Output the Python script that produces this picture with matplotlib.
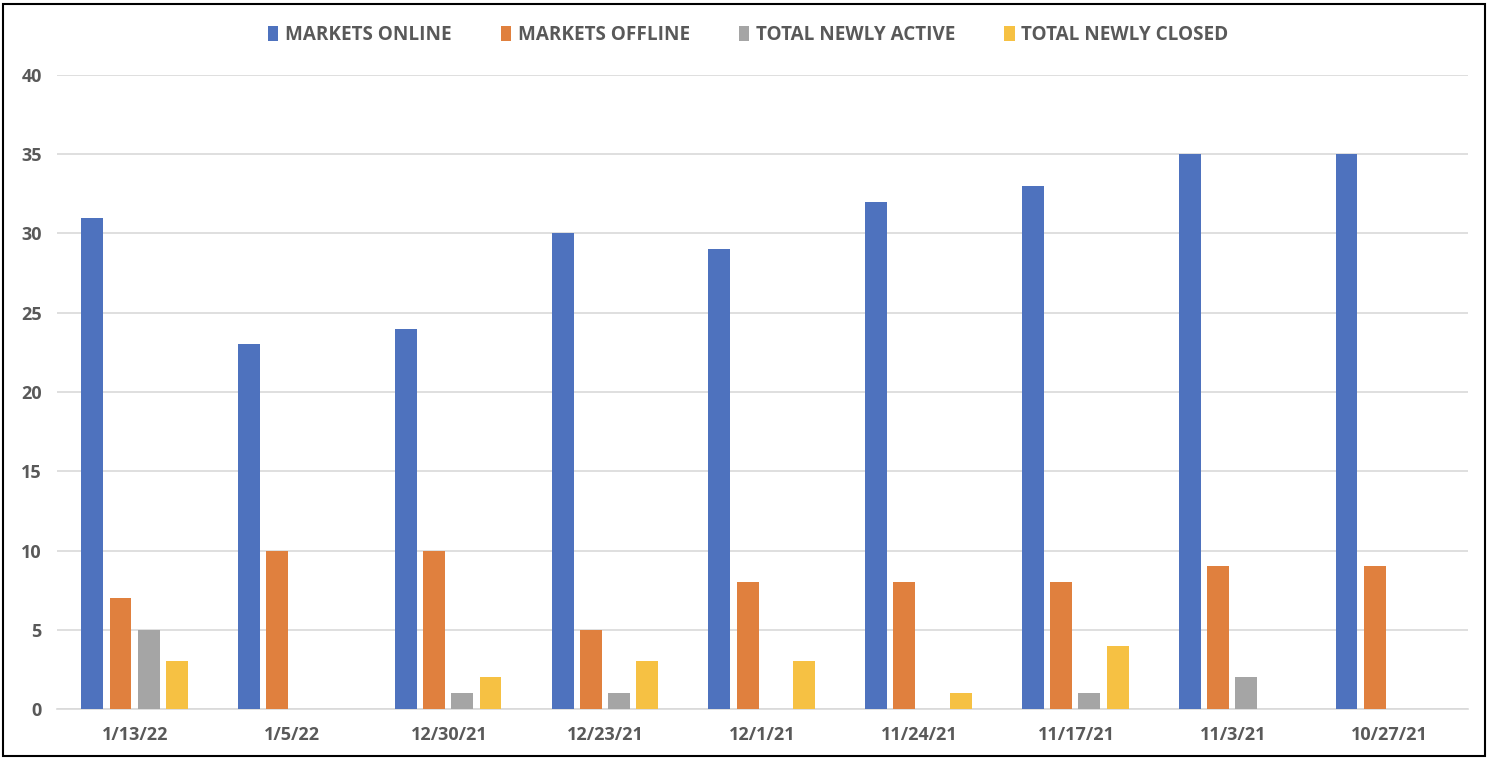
import matplotlib.pyplot as plt
import numpy as np
from matplotlib.patches import Rectangle

dates = ["1/13/22", "1/5/22", "12/30/21", "12/23/21", "12/1/21",
         "11/24/21", "11/17/21", "11/3/21", "10/27/21"]
markets_online = [31, 23, 24, 30, 29, 32, 33, 35, 35]
markets_offline = [7, 10, 10, 5, 8, 8, 8, 9, 9]
newly_active = [5, 0, 1, 1, 0, 0, 1, 2, 0]
newly_closed = [3, 0, 2, 3, 3, 1, 4, 0, 0]

series = [("MARKETS ONLINE", markets_online, "#4E72BE"),
          ("MARKETS OFFLINE", markets_offline, "#E0803E"),
          ("TOTAL NEWLY ACTIVE", newly_active, "#A5A5A5"),
          ("TOTAL NEWLY CLOSED", newly_closed, "#F6C143")]

plt.rcParams['font.family'] = ['Open Sans', 'DejaVu Sans']
txt = "#595959"

fig = plt.figure(figsize=(14.92, 7.64), dpi=100)
ax = fig.add_axes([57/1492, 1-709/764, (1468-57)/1492, (709-75)/764])

x = np.arange(len(dates))
offsets = [-0.275, -0.095, 0.085, 0.265]
for (name, vals, col), off in zip(series, offsets):
    ax.bar(x + off, vals, width=0.14, color=col, label=name, zorder=3)

ax.set_xlim(-0.5, len(dates) - 0.5)
ax.set_ylim(0, 40)
ax.set_yticks(range(0, 41, 5))
ax.set_xticks(x)
ax.set_xticklabels(dates)
ax.tick_params(length=0, labelsize=13, colors=txt)
ax.tick_params(axis='x', pad=12)
ax.tick_params(axis='y', pad=11)
for lab in ax.get_xticklabels() + ax.get_yticklabels():
    lab.set_fontweight("bold")
ax.grid(axis='y', color="#D9D9D9", linewidth=1.2, zorder=0)
for s in ["top", "right", "left"]:
    ax.spines[s].set_visible(False)
ax.spines["bottom"].set_color("#D9D9D9")
ax.spines["bottom"].set_linewidth(1.2)

leg = ax.legend(loc="upper center", bbox_to_anchor=(0.49, 1.106), ncol=4,
                frameon=False, handlelength=0.55, handleheight=0.85,
                handletextpad=0.35, columnspacing=2.6,
                prop={'weight': 'bold', 'size': 13.6})
for t in leg.get_texts():
    t.set_color(txt)

fig.patches.append(Rectangle((0.002, 0.01), 0.993, 0.985, transform=fig.transFigure,
                             fill=False, edgecolor="black", linewidth=1.5))

fig.savefig("out.png", dpi=100)
